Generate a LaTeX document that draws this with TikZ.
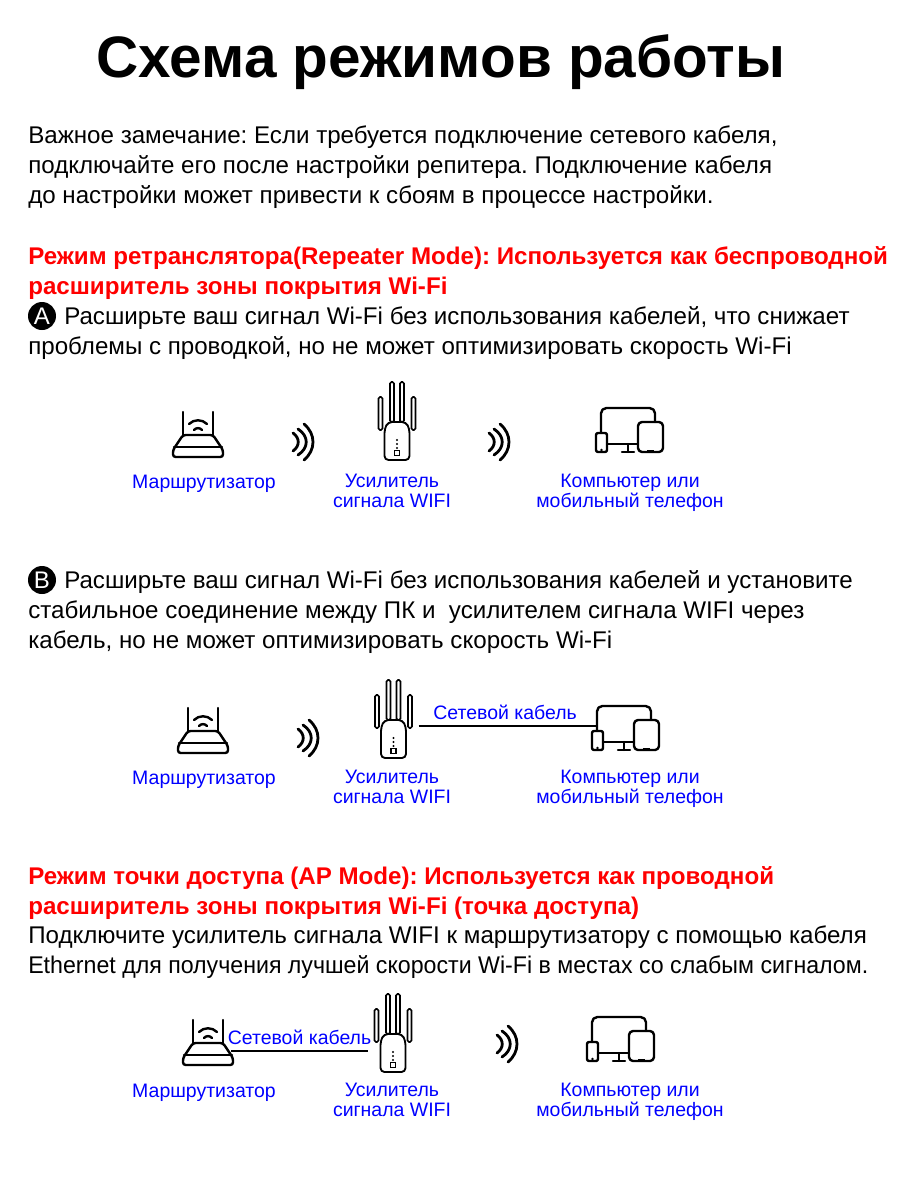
\documentclass[tikz,border=0pt]{standalone}
\usepackage{fontspec}
\setmainfont{Liberation Sans}
\usetikzlibrary{positioning}
\definecolor{modered}{RGB}{255,0,0}
\definecolor{labelblue}{RGB}{0,0,255}
\tikzset{
  icon/.style={line width=1.8pt,line cap=round,line join=round},
  routericon/.pic={
    \draw[icon] (-15,-45)--(-15,-22);
    \draw[icon] (15,-45)--(15,-22);
    \draw[icon] (-9,-33) .. controls (-4,-38) and (4,-38) .. (9,-33);
    \draw[icon] (-4,-27) .. controls (-2,-29.5) and (2,-29.5) .. (4,-27);
    \draw[icon,rounded corners=2pt] (-15,-22)--(15,-22)--(25,-7)--(25,0)--(-25,0)--(-25,-7)--cycle;
    \draw[icon] (-24,-10)--(24,-10);
    \coordinate (-port) at (23,-14);
  },
  waveicon/.pic={
    \draw[icon,line width=2.1pt] (0,-9) .. controls (7,-4) and (7,4) .. (0,9);
    \draw[icon,line width=2.1pt] (5,-13) .. controls (16,-6) and (16,6) .. (5,13);
    \draw[icon,line width=2.1pt] (11,-18) .. controls (23,-8) and (23,8) .. (11,18);
  },
  extendericon/.pic={
    \foreach \ax/\atop/\abot in {-16.5/-63/-30,16.5/-63/-30,-5/-78/-38,5/-78/-38}{
      \draw[line width=1.2pt,rounded corners=1.2pt] (\ax-2,\abot) rectangle (\ax+2,\atop);
    }
    \draw[icon,line width=1.4pt,fill=white,rounded corners=3pt] (-12.5,0)--(12.5,0)--(12.5,-31)--(9,-38)--(-9,-38)--(-12.5,-31)--cycle;
    \foreach \ledy in {-20,-16,-12}{
      \fill (0,\ledy) circle (0.8pt);
    }
    \draw[line width=1.1pt] (-2.5,-9.5) rectangle (2.5,-4.5);
    \coordinate (-right) at (25,-32);
    \coordinate (-left) at (-25,-21);
  },
  deviceicon/.pic={
    \draw[icon,rounded corners=4pt] (-27,-19)--(-27,-44)--(27,-44)--(27,-30);
    \draw[icon] (-21,-8)--(10,-8);
    \draw[icon] (0,-8)--(0,0);
    \draw[icon] (-6,0)--(6,0);
    \draw[icon,rounded corners=1.5pt] (-32,-19) rectangle (-21,0);
    \fill (-26.5,-2) circle (1pt);
    \draw[icon,rounded corners=3pt] (10,-30) rectangle (35,0);
    \draw[line width=1pt] (19,-1.5)--(26,-1.5);
    \coordinate (-port) at (-27,-24);
  }
}
\begin{document}
\frenchspacing
\begin{tikzpicture}[x=0.75pt,y=-0.75pt,
    textline/.style={anchor=north west,inner sep=0pt,align=left,font=\fontsize{18.1}{22.5}\selectfont},
    modeline/.style={textline,text=modered,font=\fontsize{18.1}{22.5}\selectfont\bfseries},
    devlabel/.style={inner sep=0pt,align=center,text=labelblue,font=\fontsize{14.6}{15}\selectfont},
    badge/.style={circle,fill=black,text=white,inner sep=0pt,minimum size=21pt,font=\fontsize{18}{18}\selectfont}]
    \useasboundingbox (0,0) rectangle (900,1200);
    % Title
    \node[inner sep=0pt,font=\fontsize{43.85}{50}\selectfont\bfseries] (title) at (441,62) {Схема режимов работы};
    % Note
    \node[textline] (note) at (28,126) {Важное замечание: Если требуется подключение сетевого кабеля,\\
      подключайте его после настройки репитера. Подключение кабеля\\
      до настройки может привести к сбоям в процессе настройки.};
    % Repeater mode
    \node[modeline] (repeater) at (28,246) {Режим ретранслятора(Repeater Mode): Используется как беспроводной\\
      расширитель зоны покрытия Wi-Fi};
    \node[badge] (badgea) at (42,316) {A};
    \node[textline] (texta) at (28,306) {\hspace*{27pt}Расширьте ваш сигнал Wi-Fi без использования кабелей, что снижает\\
      проблемы с проводкой, но не может оптимизировать скорость Wi-Fi};
    \pic (router-a) at (198,457) {routericon};
    \pic (wave-a) at (293,442) {waveicon};
    \pic (ext-a) at (397,460) {extendericon};
    \pic (wave-a2) at (489,442) {waveicon};
    \pic (dev-a) at (628,452) {deviceicon};
    % Variant B
    \node[badge] (badgeb) at (42,580) {B};
    \node[textline] (textb) at (28,570) {\hspace*{27pt}Расширьте ваш сигнал Wi-Fi без использования кабелей и установите\\
      стабильное соединение между ПК и~ усилителем сигнала WIFI через\\
      кабель, но не может оптимизировать скорость Wi-Fi};
    \pic (router-b) at (203,753) {routericon};
    \pic (wave-b) at (298,738) {waveicon};
    \pic (ext-b) at (393.5,758) {extendericon};
    \pic (dev-b) at (624,750) {deviceicon};
    \draw[line width=1.3pt] (ext-b-right) -- node[above=4pt,xshift=-2pt,devlabel] (cable-b) {Сетевой кабель} (dev-b-port);
    % AP mode
    \node[modeline] (apmode) at (28,866) {Режим точки доступа (AP Mode): Используется как проводной\\
      расширитель зоны покрытия Wi-Fi (точка доступа)};
    \node[textline] (textc) at (28,926) {Подключите усилитель сигнала WIFI к маршрутизатору с помощью кабеля\\
      \scalebox{0.96}[1]{Ethernet для получения лучшей скорости Wi-Fi в местах со слабым сигналом.}};
    \pic (router-c) at (208,1065) {routericon};
    \pic (ext-c) at (393,1072) {extendericon};
    \pic (wave-c) at (497,1044) {waveicon};
    \pic (dev-c) at (619,1061) {deviceicon};
    \draw[line width=1pt] (router-c-port) -- node[above=4pt,devlabel] (cable-c) {Сетевой кабель} (ext-c-left);
    % Device labels
    \foreach \row/\laby in {a/484,b/780,c/1093}{
      \node[devlabel] (lab-router-\row) at (204,\laby) {Маршрутизатор};
      \node[devlabel,anchor=north] (lab-ext-\row) at (392,\laby-10) {Усилитель\\сигнала WIFI};
      \node[devlabel,anchor=north] (lab-dev-\row) at (630,\laby-10) {Компьютер или\\мобильный телефон};
    }
\end{tikzpicture}
\end{document}
